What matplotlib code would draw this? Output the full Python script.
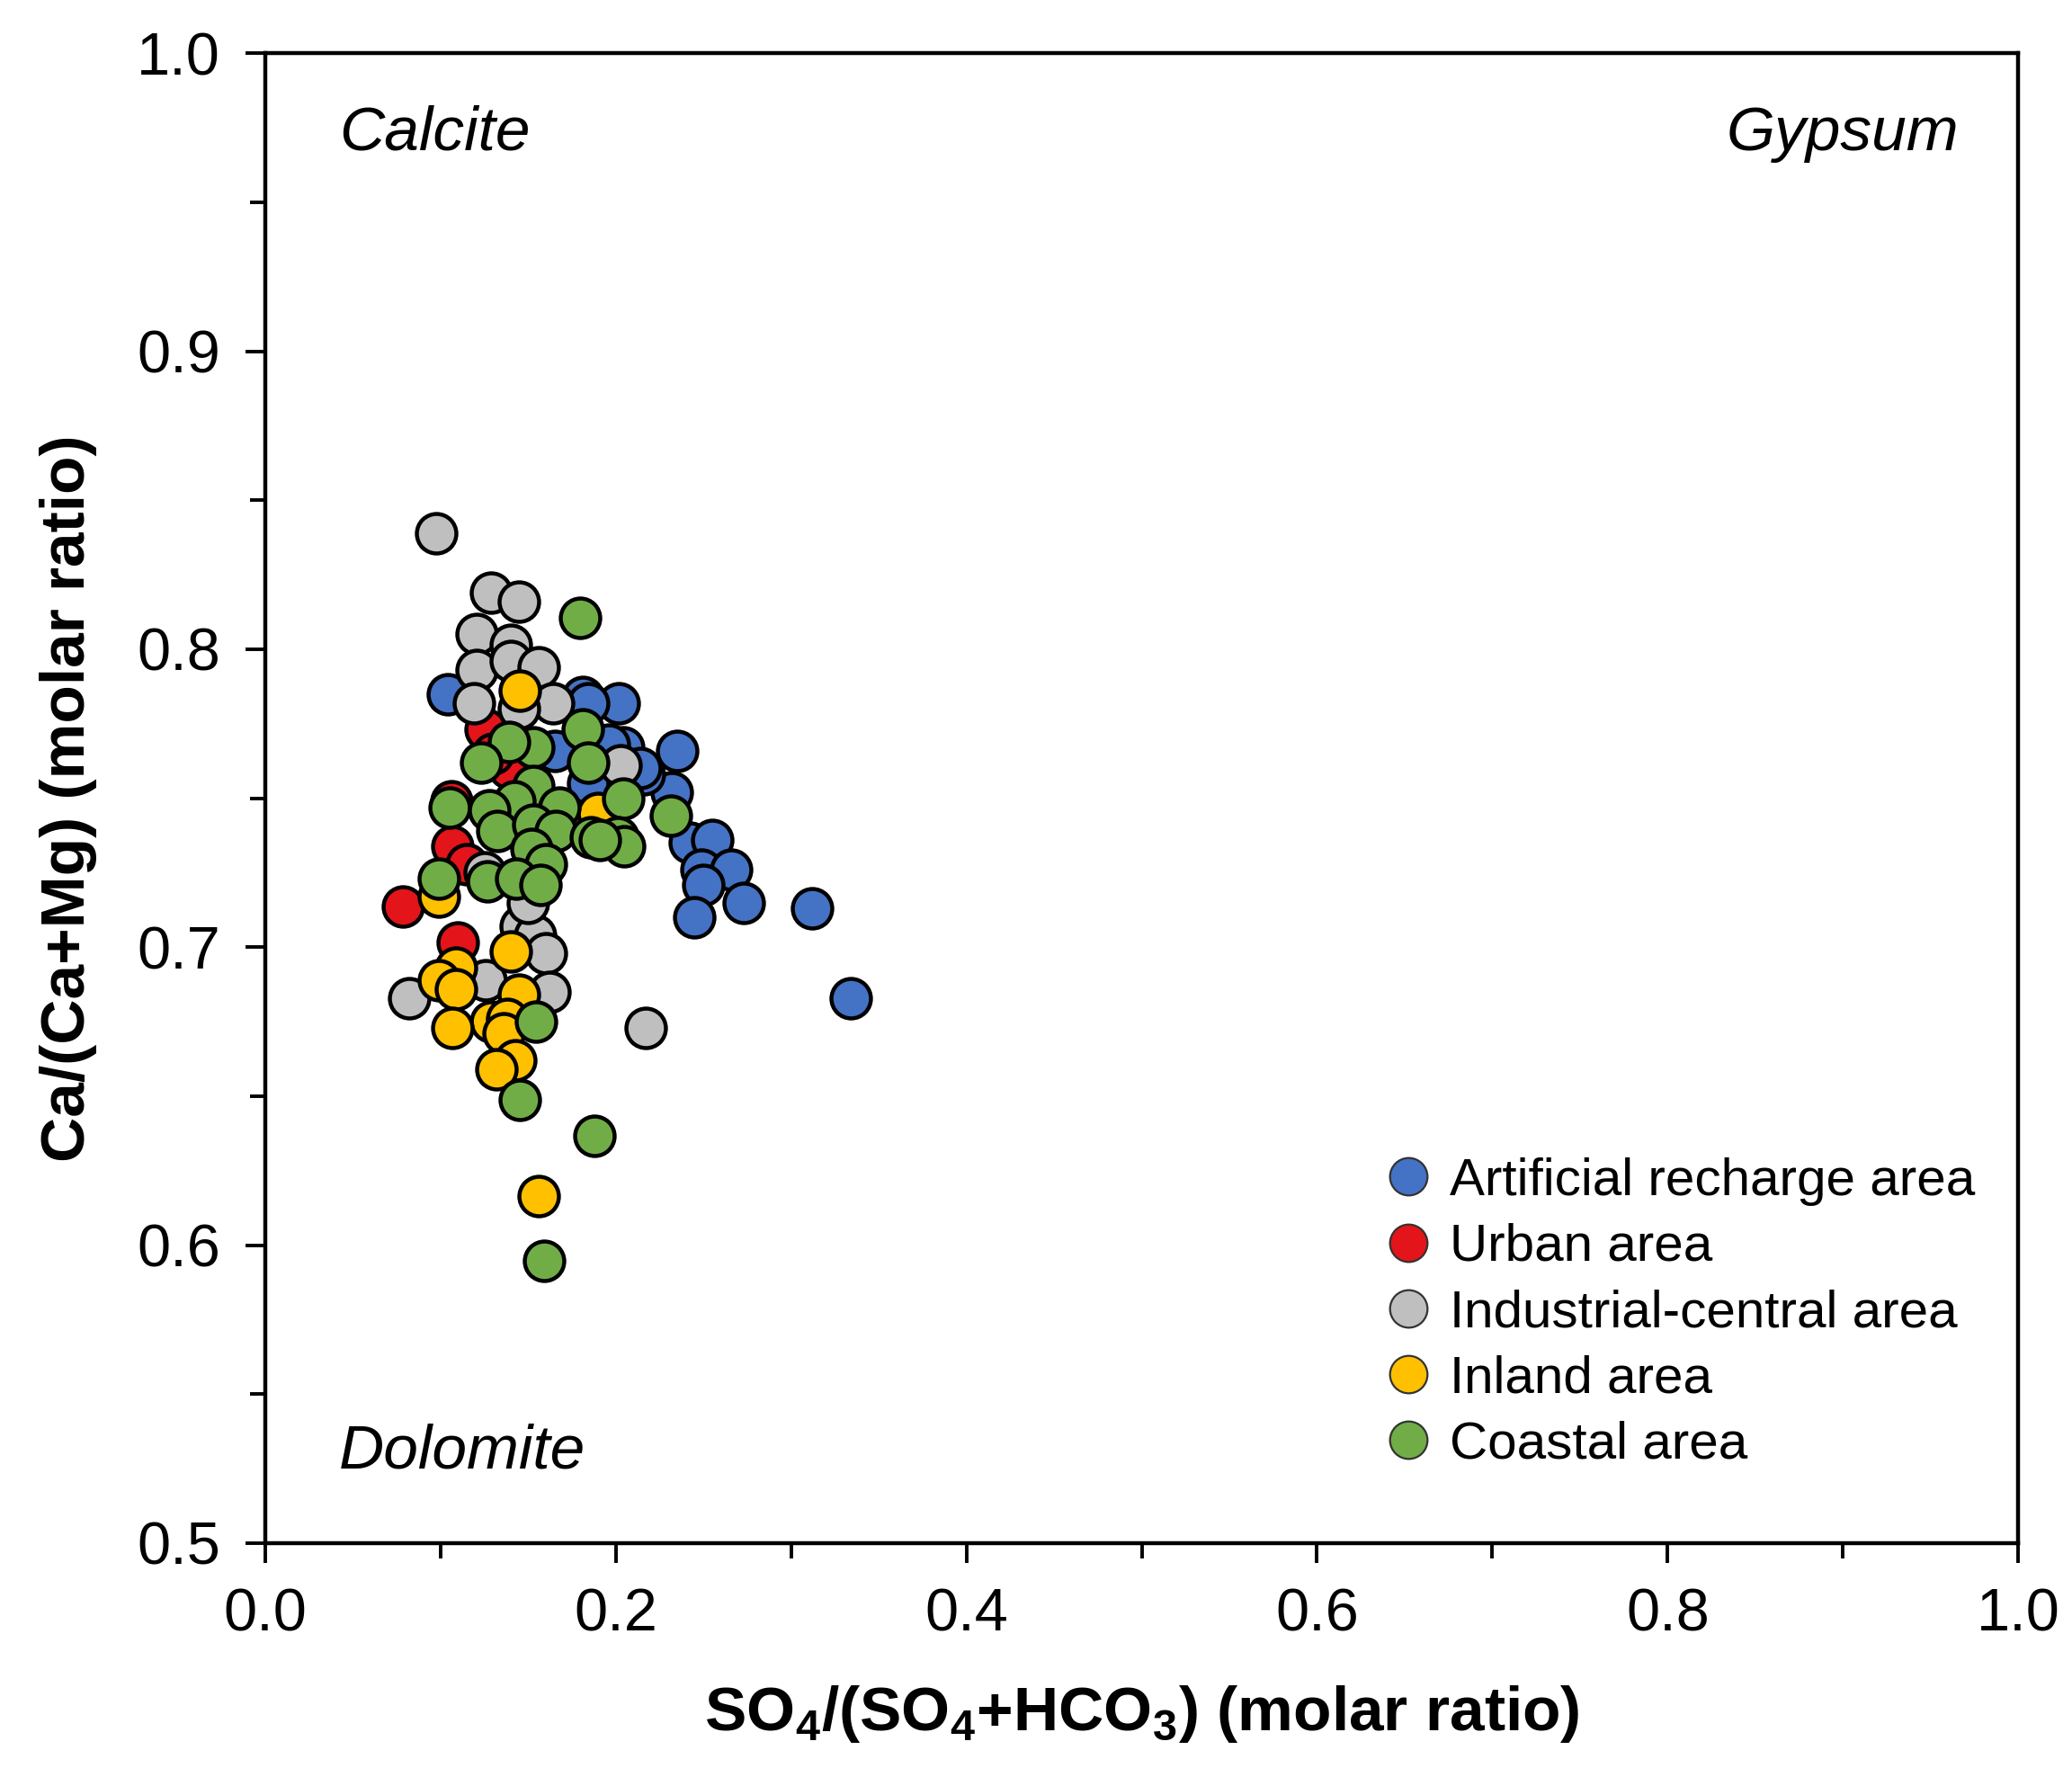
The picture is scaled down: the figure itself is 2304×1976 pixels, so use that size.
import matplotlib
matplotlib.use("Agg")
import matplotlib.pyplot as plt
from matplotlib.lines import Line2D
from matplotlib import font_manager
from matplotlib.ticker import MultipleLocator

names = {f.name for f in font_manager.fontManager.ttflist}
base_font = "Liberation Sans" if "Liberation Sans" in names else "DejaVu Sans"
plt.rcParams["font.family"] = [base_font, "DejaVu Sans"]
plt.rcParams["mathtext.fontset"] = "custom"
plt.rcParams["mathtext.bf"] = base_font + ":bold"
plt.rcParams["mathtext.rm"] = base_font

# data
labels = ["Artificial recharge area", "Urban area", "Industrial-central area", "Inland area", "Coastal area"]
colors = ["#4472C4", "#E4141B", "#BFBFBF", "#FFC000", "#70AD47"]

blue_x = [0.104, 0.181, 0.2015, 0.184, 0.235, 0.232, 0.204, 0.216, 0.196, 0.165, 0.214, 0.184,
          0.242, 0.255, 0.249, 0.266, 0.250, 0.273, 0.245, 0.312, 0.334]
blue_y = [0.785, 0.784, 0.782, 0.782, 0.766, 0.752, 0.767, 0.758, 0.768, 0.766, 0.760, 0.755,
          0.735, 0.736, 0.726, 0.726, 0.721, 0.715, 0.710, 0.713, 0.683]

red_x = [0.1256, 0.139, 0.106, 0.107, 0.115, 0.0786, 0.110, 0.130]
red_y = [0.773, 0.760, 0.749, 0.734, 0.728, 0.7136, 0.7015, 0.765]

gray_x = [0.0974, 0.129, 0.1445, 0.1205, 0.140, 0.1205, 0.140, 0.156, 0.119, 0.164, 0.1445, 0.2026,
          0.146, 0.154, 0.160, 0.1256, 0.082, 0.162, 0.217, 0.125, 0.150, 0.145]
gray_y = [0.839, 0.819, 0.816, 0.805, 0.8015, 0.793, 0.796, 0.794, 0.782, 0.782, 0.780, 0.761,
          0.707, 0.704, 0.698, 0.689, 0.683, 0.685, 0.673, 0.725, 0.715, 0.740]

yellow_x = [0.145, 0.190, 0.099, 0.140, 0.1086, 0.099, 0.1086, 0.1445, 0.129, 0.138, 0.107, 0.136,
            0.1427, 0.132, 0.156]
yellow_y = [0.786, 0.745, 0.717, 0.6985, 0.693, 0.689, 0.686, 0.684, 0.675, 0.676, 0.6728, 0.671,
            0.662, 0.659, 0.6165]

green_x = [0.1795, 0.181, 0.153, 0.139, 0.123, 0.184, 0.153, 0.204, 0.105, 0.168, 0.142, 0.128,
           0.1325, 0.153, 0.166, 0.186, 0.201, 0.2316, 0.152, 0.160, 0.099, 0.127, 0.143, 0.157,
           0.2045, 0.191, 0.1547, 0.1453, 0.188, 0.159]
green_y = [0.8106, 0.773, 0.767, 0.769, 0.762, 0.762, 0.754, 0.750, 0.747, 0.747, 0.749, 0.746,
           0.739, 0.741, 0.739, 0.737, 0.737, 0.744, 0.733, 0.728, 0.723, 0.722, 0.723, 0.721,
           0.734, 0.736, 0.675, 0.6487, 0.6366, 0.5948]

series = [(blue_x, blue_y), (red_x, red_y), (gray_x, gray_y), (yellow_x, yellow_y), (green_x, green_y)]

fig = plt.figure(figsize=(11.52, 9.88), dpi=200)
ax = fig.add_axes([0.128, 0.1316, 0.846, 0.8384])

for (xs, ys), c in zip(series, colors):
    ax.scatter(xs, ys, s=250, c=c, edgecolors="black", linewidths=1.6, zorder=3)

ax.set_xlim(0, 1)
ax.set_ylim(0.5, 1.0)
ax.xaxis.set_major_locator(MultipleLocator(0.2))
ax.xaxis.set_minor_locator(MultipleLocator(0.1))
ax.yaxis.set_major_locator(MultipleLocator(0.1))
ax.yaxis.set_minor_locator(MultipleLocator(0.05))
ax.xaxis.set_major_formatter(plt.FormatStrFormatter("%.1f"))
ax.yaxis.set_major_formatter(plt.FormatStrFormatter("%.1f"))
ax.tick_params(which="major", direction="out", length=8, width=1.4, labelsize=24, pad=10)
ax.tick_params(which="minor", direction="out", length=6, width=1.4)
for sp in ax.spines.values():
    sp.set_linewidth(1.6)

ax.set_xlabel(r"SO$_\mathbf{4}$/(SO$_\mathbf{4}$+HCO$_\mathbf{3}$) (molar ratio)",
              fontsize=25, fontweight="bold", labelpad=16)
ax.set_ylabel("Ca/(Ca+Mg) (molar ratio)", fontsize=25, fontweight="bold", labelpad=16)

ax.text(0.042, 0.946, "Calcite", transform=ax.transAxes, fontsize=25, style="italic", va="center")
ax.text(0.966, 0.946, "Gypsum", transform=ax.transAxes, fontsize=25, style="italic", va="center", ha="right")
ax.text(0.042, 0.061, "Dolomite", transform=ax.transAxes, fontsize=25, style="italic", va="center")

handles = [Line2D([], [], ls="none", marker="o", markersize=15, markerfacecolor=c,
                  markeredgecolor="#333333", markeredgewidth=0.8) for c in colors]
ax.legend(handles, labels, loc="lower left", bbox_to_anchor=(0.616, 0.025), frameon=False,
          fontsize=21, handletextpad=0.3, labelspacing=0.33,
          handlelength=1.0, borderpad=0.2)

fig.savefig("out.png", dpi=200)
